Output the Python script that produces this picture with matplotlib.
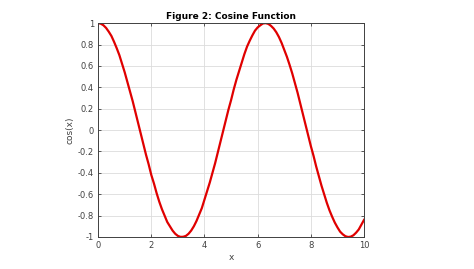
import matplotlib.pyplot as plt

# values, every 0.1 along x
x = [0.0, 0.1, 0.2, 0.3, 0.4, 0.5, 0.6, 0.7, 0.8, 0.9,
     1.0, 1.1, 1.2, 1.3, 1.4, 1.5, 1.6, 1.7, 1.8, 1.9,
     2.0, 2.1, 2.2, 2.3, 2.4, 2.5, 2.6, 2.7, 2.8, 2.9,
     3.0, 3.1, 3.2, 3.3, 3.4, 3.5, 3.6, 3.7, 3.8, 3.9,
     4.0, 4.1, 4.2, 4.3, 4.4, 4.5, 4.6, 4.7, 4.8, 4.9,
     5.0, 5.1, 5.2, 5.3, 5.4, 5.5, 5.6, 5.7, 5.8, 5.9,
     6.0, 6.1, 6.2, 6.3, 6.4, 6.5, 6.6, 6.7, 6.8, 6.9,
     7.0, 7.1, 7.2, 7.3, 7.4, 7.5, 7.6, 7.7, 7.8, 7.9,
     8.0, 8.1, 8.2, 8.3, 8.4, 8.5, 8.6, 8.7, 8.8, 8.9,
     9.0, 9.1, 9.2, 9.3, 9.4, 9.5, 9.6, 9.7, 9.8, 9.9,
     10.0]
y = [1.00, 0.995, 0.98, 0.955, 0.92, 0.88, 0.825, 0.765, 0.70, 0.62,
     0.54, 0.45, 0.36, 0.27, 0.17, 0.07, -0.03, -0.13, -0.23, -0.32,
     -0.42, -0.50, -0.59, -0.67, -0.74, -0.80, -0.86, -0.90, -0.94, -0.97,
     -0.99, -0.999, -0.998, -0.99, -0.97, -0.94, -0.90, -0.85, -0.79, -0.73,
     -0.65, -0.57, -0.49, -0.40, -0.31, -0.21, -0.11, -0.01, 0.09, 0.19,
     0.28, 0.38, 0.47, 0.55, 0.63, 0.71, 0.78, 0.835, 0.885, 0.93,
     0.96, 0.98, 0.997, 1.00, 0.993, 0.975, 0.95, 0.915, 0.87, 0.815,
     0.75, 0.685, 0.61, 0.53, 0.44, 0.35, 0.25, 0.15, 0.05, -0.05,
     -0.15, -0.24, -0.34, -0.43, -0.52, -0.60, -0.68, -0.75, -0.81, -0.865,
     -0.91, -0.95, -0.975, -0.993, -1.00, -0.997, -0.984, -0.96, -0.93, -0.885,
     -0.84]
xticks = [0, 2, 4, 6, 8, 10]
yticks = [-1, -0.8, -0.6, -0.4, -0.2, 0, 0.2, 0.4, 0.6, 0.8, 1]
ytick_labels = ["-1", "-0.8", "-0.6", "-0.4", "-0.2", "0", "0.2", "0.4", "0.6", "0.8", "1"]

plt.rcParams['font.family'] = ['DejaVu Sans']
fig = plt.figure(figsize=(4.74, 2.69), dpi=100)
ax = fig.add_axes([0.207, 0.119, 0.561, 0.795])

ax.plot(x, y, color='#e00000', linewidth=1.6, solid_joinstyle='round')
ax.set_xlim(0, 10)
ax.set_ylim(-1, 1)
ax.set_xticks(xticks)
ax.set_yticks(yticks)
ax.set_yticklabels(ytick_labels)
ax.grid(True, color='#dcdcdc', linewidth=0.6)
ax.set_axisbelow(True)
ax.tick_params(direction='in', length=2.5, labelsize=6, colors='#404040',
               width=0.6, top=True, right=True, pad=3)
for s in ax.spines.values():
    s.set_color('#404040')
    s.set_linewidth(0.7)

ax.set_xlabel('x', fontsize=6.5, color='#404040', labelpad=2)
ax.set_ylabel('cos(x)', fontsize=6.5, color='#404040', labelpad=2)
ax.set_title('Figure 2: Cosine Function', fontsize=6.5, fontweight='bold', pad=3)

fig.savefig('out.png', dpi=100)
